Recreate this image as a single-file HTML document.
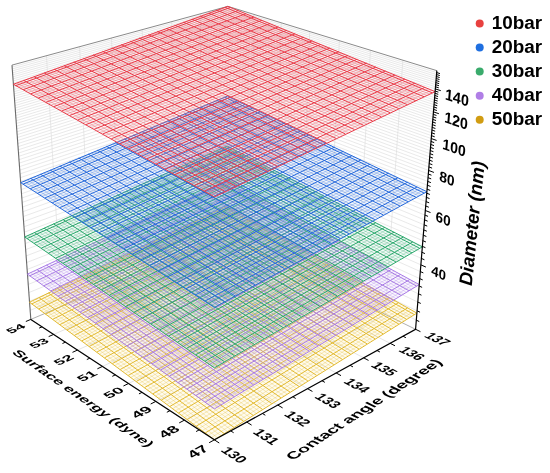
<!DOCTYPE html>
<html><head><meta charset="utf-8"><style>html,body{margin:0;padding:0;background:#fff;}svg{display:block;}</style></head>
<body><svg width="550" height="473" viewBox="0 0 550 473">
<path d="M30.15,310.4L226.68,228.53M226.68,228.53L416.31,320.14M29.47,301.2L226.73,220.11M226.73,220.11L417.08,310.8M28.83,292.57L226.77,212.22M226.77,212.22L417.8,302.04M28.23,284.45L226.81,204.79M226.81,204.79L418.48,293.79M27.66,276.77L226.84,197.78M226.84,197.78L419.12,285.99M27.12,269.48L226.88,191.13M226.88,191.13L419.73,278.59M26.61,262.55L226.91,184.81M226.91,184.81L420.31,271.55M26.12,255.95L226.94,178.78M226.94,178.78L420.86,264.84M25.65,249.63L226.97,173.02M226.97,173.02L421.39,258.42M25.2,243.57L227,167.51M227,167.51L421.89,252.26M24.77,237.76L227.02,162.22M227.02,162.22L422.38,246.36M24.35,232.17L227.05,157.14M227.05,157.14L422.85,240.68M23.96,226.79L227.08,152.24M227.08,152.24L423.3,235.2M23.57,221.59L227.1,147.52M227.1,147.52L423.73,229.92M23.2,216.57L227.12,142.96M227.12,142.96L424.15,224.82M22.84,211.72L227.15,138.56M227.15,138.56L424.56,219.88M22.49,207.02L227.17,134.29M227.17,134.29L424.95,215.1M22.15,202.46L227.19,130.15M227.19,130.15L425.33,210.47M21.82,198.04L227.21,126.14M227.21,126.14L425.7,205.97M21.51,193.74L227.23,122.24M227.23,122.24L426.06,201.6M21.2,189.56L227.25,118.46M227.25,118.46L426.41,197.34M20.9,185.49L227.27,114.77M227.27,114.77L426.75,193.21M20.6,181.53L227.29,111.19M227.29,111.19L427.08,189.18M20.32,177.67L227.31,107.69M227.31,107.69L427.41,185.25M20.04,173.9L227.32,104.28M227.32,104.28L427.72,181.41M19.76,170.22L227.34,100.96M227.34,100.96L428.03,177.67M19.5,166.63L227.36,97.71M227.36,97.71L428.33,174.02M19.24,163.12L227.37,94.53M227.37,94.53L428.63,170.45M18.98,159.69L227.39,91.43M227.39,91.43L428.91,166.95M18.73,156.33L227.41,88.4M227.41,88.4L429.19,163.54M18.49,153.04L227.42,85.43M227.42,85.43L429.47,160.19M18.25,149.82L227.44,82.52M227.44,82.52L429.74,156.91M18.02,146.66L227.45,79.67M227.45,79.67L430,153.7M17.79,143.57L227.47,76.88M227.47,76.88L430.26,150.55M17.56,140.54L227.48,74.15M227.48,74.15L430.52,147.46M17.34,137.56L227.49,71.46M227.49,71.46L430.77,144.43M17.13,134.64L227.51,68.83M227.51,68.83L431.01,141.46M16.91,131.77L227.52,66.24M227.52,66.24L431.25,138.54M16.71,128.95L227.53,63.7M227.53,63.7L431.49,135.67M16.5,126.18L227.55,61.21M227.55,61.21L431.72,132.85M16.3,123.46L227.56,58.76M227.56,58.76L431.95,130.08M16.1,120.78L227.57,56.34M227.57,56.34L432.17,127.35M15.91,118.15L227.58,53.97M227.58,53.97L432.39,124.67M15.71,115.56L227.6,51.64M227.6,51.64L432.61,122.03M15.52,113.01L227.61,49.35M227.61,49.35L432.82,119.43M15.34,110.5L227.62,47.09M227.62,47.09L433.03,116.88M15.16,108.02L227.63,44.87M227.63,44.87L433.24,114.36M14.97,105.59L227.64,42.68M227.64,42.68L433.44,111.88M14.8,103.19L227.65,40.52M227.65,40.52L433.65,109.44M14.62,100.83L227.66,38.4M227.66,38.4L433.84,107.03M14.45,98.5L227.67,36.3M227.67,36.3L434.04,104.66M14.28,96.2L227.69,34.24M227.69,34.24L434.23,102.32M14.11,93.93L227.7,32.21M227.7,32.21L434.42,100.01M13.95,91.7L227.71,30.2M227.71,30.2L434.61,97.73M13.78,89.49L227.72,28.22M227.72,28.22L434.79,95.49M13.62,87.32L227.73,26.27M227.73,26.27L434.98,93.27M13.46,85.17L227.74,24.34M227.74,24.34L435.16,91.08M13.3,83.05L227.75,22.44M227.75,22.44L435.33,88.92M13.15,80.96L227.76,20.56M227.76,20.56L435.51,86.79M13,78.89L227.77,18.7M227.77,18.7L435.68,84.68M12.85,76.85L227.77,16.87M227.77,16.87L435.85,82.6M12.7,74.83L227.78,15.07M227.78,15.07L436.02,80.55M12.55,72.84L227.79,13.28M227.79,13.28L436.19,78.52M12.4,70.87L227.8,11.51M227.8,11.51L436.36,76.51M12.26,68.92L227.81,9.77M227.81,9.77L436.52,74.53M12.12,67L227.82,8.05M227.82,8.05L436.68,72.57M61.79,306.33L46.45,55.74M385.19,314.41L402.86,60.2M91.68,293.72L79.6,46.72M356.07,300.15L370.41,50.22M120.53,281.54L111.49,38.03M328.11,286.46L339.39,40.68M148.41,269.78L142.2,29.68M301.25,273.31L309.7,31.55M175.36,258.42L171.78,21.62M275.42,260.66L281.26,22.8M201.42,247.42L200.31,13.86M250.57,248.5L253.99,14.41" stroke="#dadada" stroke-width="0.6" fill="none"/>
<path d="M246.72,422.07L61.79,306.33M184.4,420.17L385.19,314.41M277.74,405.02L91.68,293.72M155.82,401.41L356.07,300.15M307.51,388.66L120.53,281.54M128.54,383.51L328.11,286.46M336.11,372.94L148.41,269.78M102.48,366.41L301.25,273.31M363.61,357.82L175.36,258.42M77.55,350.06L275.42,260.66M390.08,343.28L201.42,247.42M53.69,334.4L250.57,248.5" stroke="#d8d8d8" stroke-width="0.7" fill="none"/>
<path d="M30.82,319.4L11.98,65.12" stroke="#6a6a6a" stroke-width="1.1" fill="none"/>
<path d="M11.98,65.12L227.83,6.37L436.84,70.65" stroke="#8a8a8a" stroke-width="1" fill="none"/>
<path d="M30.82,319.4L226.64,236.78L415.56,329.28" stroke="#9a9a9a" stroke-width="0.8" fill="none"/>
<polygon points="214.39,439.84 230.74,429.46 246.76,419.3 262.47,409.37 277.88,399.66 292.99,390.16 307.82,380.85 322.36,371.75 336.63,362.83 350.63,354.11 364.37,345.56 377.86,337.19 391.11,328.99 404.11,320.95 416.89,313.08 416.89,313.08 401.53,304.37 386.48,295.84 371.73,287.49 357.26,279.32 343.08,271.32 329.17,263.49 315.52,255.82 302.12,248.31 288.98,240.94 276.08,233.73 263.42,226.66 250.99,219.72 238.79,212.93 226.8,206.26 226.8,206.26 214.14,212.3 201.28,218.46 188.22,224.73 174.94,231.11 161.46,237.62 147.75,244.26 133.82,251.02 119.66,257.91 105.26,264.94 90.62,272.11 75.74,279.41 60.6,286.87 45.21,294.47 29.55,302.23 29.55,302.23 41.01,310.69 52.7,319.33 64.64,328.17 76.83,337.2 89.28,346.43 101.99,355.87 114.98,365.53 128.26,375.41 141.82,385.53 155.69,395.88 169.87,406.48 184.37,417.33 199.21,428.45 214.39,439.84" fill="#f6e38e" fill-opacity="0.15"/>
<path d="M217.68,437.74L32.7,300.67M211.32,437.54L413.79,311.32M220.96,435.66L35.84,299.11M208.27,435.25L410.71,309.57M227.49,431.51L42.09,296.01M202.21,430.7L404.58,306.09M230.74,429.46L45.21,294.47M199.21,428.45L401.53,304.37M237.18,425.37L51.4,291.41M193.23,423.97L395.48,300.93M240.39,423.34L54.47,289.89M190.26,421.74L392.47,299.23M246.76,419.3L60.6,286.87M184.37,417.33L386.48,295.84M249.93,417.3L63.65,285.37M181.44,415.14L383.51,294.15M256.23,413.32L69.71,282.38M175.63,410.79L377.6,290.81M259.36,411.34L72.73,280.89M172.74,408.63L374.66,289.15M265.58,407.41L78.73,277.94M167.01,404.34L368.81,285.84M268.67,405.46L81.72,276.47M164.16,402.21L365.91,284.2M274.82,401.59L87.66,273.56M158.5,397.98L360.13,280.94M277.88,399.66L90.62,272.11M155.69,395.88L357.26,279.32M283.96,395.83L96.51,269.22M150.1,391.71L351.56,276.1M286.98,393.93L99.43,267.79M147.33,389.64L348.72,274.5M292.99,390.16L105.26,264.94M141.82,385.53L343.08,271.32M295.98,388.28L108.16,263.52M139.08,383.48L340.27,269.74M301.92,384.55L113.93,260.71M133.65,379.43L334.7,266.6M304.87,382.7L116.8,259.31M130.94,377.42L331.93,265.05M310.75,379.02L122.51,256.52M125.58,373.42L326.41,261.94M313.67,377.19L125.35,255.14M122.91,371.43L323.67,260.4M319.47,373.55L131,252.39M117.61,367.49L318.23,257.34M322.36,371.75L133.82,251.02M114.98,365.53L315.52,255.82M328.1,368.16L139.42,248.3M109.75,361.64L310.13,252.8M330.95,366.38L142.2,246.95M107.16,359.71L307.45,251.29M336.63,362.83L147.75,244.26M101.99,355.87L302.12,248.31M339.45,361.07L150.51,242.92M99.43,353.97L299.48,246.82M345.06,357.58L156,240.26M94.33,350.18L294.21,243.87M347.85,355.84L158.73,238.94M91.8,348.3L291.59,242.4M353.4,352.38L164.17,236.31M86.77,344.57L286.38,239.49M356.16,350.67L166.88,235.01M84.27,342.71L283.79,238.04M361.64,347.26L172.26,232.41M79.3,339.03L278.65,235.16M364.37,345.56L174.94,231.11M76.83,337.2L276.08,233.73M369.8,342.19L180.28,228.55M71.93,333.56L270.99,230.88M372.5,340.52L182.93,227.27M69.49,331.76L268.46,229.47M377.86,337.19L188.22,224.73M64.64,328.17L263.42,226.66M380.53,335.54L190.85,223.46M62.23,326.38L260.92,225.26M385.84,332.25L196.08,220.95M57.45,322.84L255.94,222.48M388.48,330.62L198.69,219.7M55.07,321.08L253.46,221.1M393.73,327.37L203.87,217.22M50.34,317.59L248.53,218.35M396.34,325.76L206.45,215.98M48,315.85L246.08,216.99M401.53,322.55L211.58,213.53M43.33,312.4L241.21,214.28M404.11,320.95L214.14,212.3M41.01,310.69L238.79,212.93M409.25,317.79L219.23,209.87M36.39,307.28L233.96,210.25M411.81,316.21L221.76,208.67M34.1,305.59L231.57,208.91" stroke="#e3ba30" stroke-width="0.5" stroke-opacity="0.6" fill="none"/>
<path d="M214.39,439.84L29.55,302.23M214.39,439.84L416.89,313.08M224.23,433.58L38.97,297.56M205.24,432.97L407.64,307.83M233.97,427.41L48.31,292.94M196.21,426.2L398.5,302.65M243.58,421.32L57.54,288.38M187.31,419.53L389.47,297.53M253.08,415.31L66.69,283.87M178.53,412.96L380.55,292.48M262.47,409.37L75.74,279.41M169.87,406.48L371.73,287.49M271.76,403.52L84.7,275.01M161.32,400.09L363.02,282.57M280.93,397.74L93.57,270.66M152.89,393.79L354.41,277.71M289.99,392.04L102.35,266.36M144.57,387.58L345.89,272.91M298.96,386.41L111.05,262.11M136.36,381.45L337.48,268.17M307.82,380.85L119.66,257.91M128.26,375.41L329.17,263.49M316.57,375.37L128.18,253.76M120.26,369.46L320.94,258.87M325.23,369.95L136.62,249.66M112.36,363.58L312.82,254.31M333.79,364.6L144.98,245.6M104.57,357.79L304.78,249.8M342.26,359.32L153.26,241.59M96.88,352.07L296.84,245.34M350.63,354.11L161.46,237.62M89.28,346.43L288.98,240.94M358.91,348.96L169.58,233.7M81.78,340.87L281.22,236.6M367.09,343.87L177.62,229.83M74.37,335.38L273.53,232.3M375.18,338.85L185.58,226M67.06,329.96L265.94,228.06M383.19,333.89L193.47,222.21M59.84,324.61L258.42,223.87M391.11,328.99L201.28,218.46M52.7,319.33L250.99,219.72M398.94,324.15L209.02,214.75M45.66,314.12L243.64,215.63M406.69,319.37L216.69,211.09M38.7,308.98L236.37,211.58M414.35,314.64L224.28,207.46M31.82,303.91L229.18,207.59M416.89,313.08L226.8,206.26M29.55,302.23L226.8,206.26" stroke="#e3ba30" stroke-width="1.0" stroke-opacity="1" fill="none"/>
<polygon points="214.4,408.91 230.96,398.71 247.19,388.73 263.1,378.98 278.7,369.44 293.99,360.11 308.99,350.98 323.7,342.05 338.13,333.31 352.28,324.76 366.18,316.38 379.81,308.18 393.19,300.15 406.33,292.28 419.23,284.58 419.23,284.58 403.68,276.05 388.44,267.71 373.5,259.56 358.86,251.57 344.5,243.76 330.42,236.11 316.61,228.62 303.07,221.28 289.78,214.1 276.74,207.06 263.94,200.16 251.38,193.4 239.04,186.78 226.93,180.28 226.93,180.28 214.15,186.18 201.16,192.19 187.96,198.31 174.54,204.55 160.91,210.91 147.05,217.39 132.97,224 118.65,230.75 104.09,237.62 89.28,244.63 74.22,251.79 58.9,259.09 43.32,266.53 27.46,274.14 27.46,274.14 39.03,282.4 50.85,290.85 62.9,299.49 75.22,308.33 87.8,317.36 100.65,326.6 113.78,336.06 127.21,345.74 140.93,355.65 154.96,365.79 169.31,376.18 183.99,386.83 199.02,397.73 214.4,408.91" fill="#dfcbf6" fill-opacity="0.15"/>
<path d="M217.74,406.85L30.66,272.6M211.29,406.66L416.1,282.86M221.06,404.8L33.84,271.08M208.2,404.41L412.97,281.15M227.67,400.73L40.17,268.04M202.07,399.95L406.76,277.74M230.96,398.71L43.32,266.53M199.02,397.73L403.68,276.05M237.49,394.69L49.58,263.54M192.97,393.34L397.55,272.7M240.74,392.7L52.7,262.05M189.96,391.16L394.5,271.03M247.19,388.73L58.9,259.09M183.99,386.83L388.44,267.71M250.4,386.77L61.98,257.61M181.03,384.68L385.43,266.07M256.78,382.86L68.12,254.69M175.14,380.41L379.44,262.8M259.94,380.91L71.18,253.24M172.22,378.29L376.46,261.17M266.25,377.05L77.25,250.34M166.42,374.08L370.55,257.95M269.38,375.14L80.27,248.91M163.53,372L367.61,256.34M275.6,371.33L86.29,246.05M157.8,367.85L361.76,253.16M278.7,369.44L89.28,244.63M154.96,365.79L358.86,251.57M284.85,365.68L95.23,241.81M149.31,361.7L353.08,248.43M287.91,363.82L98.19,240.41M146.5,359.68L350.21,246.86M293.99,360.11L104.09,237.62M140.93,355.65L344.5,243.76M297.01,358.27L107.02,236.23M138.16,353.65L341.66,242.22M303.02,354.61L112.85,233.48M132.66,349.67L336.02,239.15M306.01,352.79L115.75,232.11M129.93,347.7L333.22,237.63M311.95,349.18L121.53,229.39M124.5,343.78L327.64,234.6M314.91,347.39L124.4,228.03M121.8,341.84L324.87,233.09M320.78,343.82L130.12,225.34M116.44,337.98L319.35,230.1M323.7,342.05L132.97,224M113.78,336.06L316.61,228.62M329.5,338.53L138.63,221.34M108.5,332.25L311.16,225.67M332.39,336.78L141.45,220.02M105.87,330.36L308.46,224.2M338.13,333.31L147.05,217.39M100.65,326.6L303.07,221.28M340.98,331.59L149.84,216.09M98.06,324.74L300.39,219.83M346.65,328.16L155.4,213.49M92.91,321.03L295.07,216.96M349.47,326.45L158.16,212.2M90.35,319.19L292.42,215.52M355.08,323.07L163.66,209.63M85.26,315.54L287.15,212.68M357.87,321.38L166.39,208.35M82.73,313.72L284.53,211.27M363.42,318.04L171.84,205.81M77.71,310.12L279.33,208.46M366.18,316.38L174.54,204.55M75.22,308.33L276.74,207.06M371.66,313.08L179.94,202.04M70.26,304.77L271.59,204.28M374.39,311.44L182.62,200.79M67.8,303L269.03,202.9M379.81,308.18L187.96,198.31M62.9,299.49L263.94,200.16M382.51,306.56L190.61,197.08M60.47,297.75L261.41,198.8M387.87,303.34L195.9,194.62M55.64,294.29L256.37,196.09M390.54,301.74L198.53,193.4M53.24,292.57L253.87,194.74M395.84,298.56L203.77,190.98M48.46,289.15L248.89,192.07M398.48,296.98L206.38,189.77M46.09,287.45L246.42,190.74M403.72,293.84L211.56,187.37M41.38,284.08L241.49,188.09M406.33,292.28L214.15,186.18M39.03,282.4L239.04,186.78M411.52,289.18L219.28,183.81M34.38,279.07L234.17,184.16M414.1,287.64L221.84,182.63M32.06,277.42L231.75,182.87" stroke="#a97be6" stroke-width="0.5" stroke-opacity="0.6" fill="none"/>
<path d="M214.4,408.91L27.46,274.14M214.4,408.91L419.23,284.58M224.38,402.76L37.01,269.56M205.13,402.17L409.86,279.44M234.23,396.7L46.46,265.03M195.99,395.53L400.61,274.37M243.97,390.71L55.81,260.56M186.97,388.99L391.46,269.37M253.59,384.81L65.06,256.15M178.08,382.54L382.43,264.43M263.1,378.98L74.22,251.79M169.31,376.18L373.5,259.56M272.5,373.23L83.29,247.48M160.66,369.92L364.68,254.75M281.78,367.56L92.26,243.22M152.13,363.74L355.96,250M290.96,361.96L101.14,239.01M143.71,357.66L347.35,245.31M300.02,356.44L109.94,234.85M135.4,351.65L338.84,240.68M308.99,350.98L118.65,230.75M127.21,345.74L330.42,236.11M317.85,345.6L127.27,226.68M119.12,339.9L322.11,231.6M326.61,340.29L135.8,222.67M111.13,334.15L313.88,227.14M335.26,335.04L144.26,218.7M103.25,328.48L305.76,222.74M343.82,329.87L152.62,214.78M95.48,322.88L297.72,218.39M352.28,324.76L160.91,210.91M87.8,317.36L289.78,214.1M360.65,319.71L169.12,207.08M80.22,311.91L281.93,209.86M368.92,314.73L177.24,203.29M72.74,306.54L274.16,205.67M377.1,309.81L185.29,199.55M65.35,301.24L266.48,201.53M385.19,304.95L193.26,195.85M58.05,296.01L258.89,197.44M393.19,300.15L201.16,192.19M50.85,290.85L251.38,193.4M401.11,295.41L208.98,188.57M43.73,285.76L243.95,189.41M408.93,290.73L216.72,184.99M36.7,280.74L236.6,185.47M416.67,286.11L224.39,181.45M29.76,275.78L229.34,181.57M419.23,284.58L226.93,180.28M27.46,274.14L226.93,180.28" stroke="#a97be6" stroke-width="1.0" stroke-opacity="1" fill="none"/>
<polygon points="214.41,367.82 231.26,357.86 247.76,348.14 263.93,338.63 279.78,329.33 295.31,320.25 310.54,311.36 325.47,302.67 340.12,294.17 354.48,285.85 368.57,277.71 382.39,269.75 395.96,261.95 409.27,254.32 422.34,246.85 422.34,246.85 406.52,238.58 391.02,230.51 375.84,222.6 360.96,214.88 346.38,207.32 332.08,199.92 318.06,192.67 304.32,185.58 290.83,178.64 277.6,171.84 264.62,165.19 251.88,158.66 239.38,152.27 227.11,146.01 227.11,146.01 214.16,151.7 200.99,157.51 187.61,163.43 174.01,169.47 160.19,175.63 146.14,181.91 131.85,188.31 117.31,194.85 102.54,201.51 87.5,208.32 72.21,215.26 56.65,222.34 40.82,229.58 24.71,236.96 24.71,236.96 36.42,244.97 48.39,253.15 60.6,261.52 73.08,270.08 85.84,278.84 98.87,287.81 112.19,296.99 125.81,306.38 139.74,316.01 153.99,325.87 168.57,335.97 183.5,346.32 198.77,356.94 214.41,367.82" fill="#aee2c8" fill-opacity="0.15"/>
<path d="M217.81,365.81L27.95,235.47M211.26,365.62L419.15,245.18M221.19,363.81L31.19,233.99M208.11,363.44L415.97,243.52M227.92,359.84L37.62,231.04M201.87,359.09L409.66,240.22M231.26,357.86L40.82,229.58M198.77,356.94L406.52,238.58M237.9,353.95L47.19,226.67M192.62,352.66L400.28,235.33M241.2,352L50.35,225.22M189.56,350.54L397.18,233.71M247.76,348.14L56.65,222.34M183.5,346.32L391.02,230.51M251.02,346.22L59.78,220.91M180.48,344.23L387.96,228.91M257.5,342.4L66.02,218.07M174.5,340.08L381.88,225.74M260.73,340.51L69.12,216.66M171.53,338.02L378.85,224.17M267.13,336.75L75.29,213.86M165.63,333.93L372.84,221.05M270.31,334.88L78.36,212.46M162.7,331.9L369.85,219.49M276.64,331.17L84.46,209.69M156.88,327.87L363.91,216.41M279.78,329.33L87.5,208.32M153.99,325.87L360.96,214.88M286.03,325.67L93.55,205.58M148.25,321.89L355.09,211.83M289.14,323.86L96.55,204.22M145.4,319.92L352.18,210.32M295.31,320.25L102.54,201.51M139.74,316.01L346.38,207.32M298.38,318.45L105.51,200.17M136.93,314.06L343.5,205.82M304.49,314.89L111.43,197.5M131.35,310.21L337.77,202.86M307.52,313.12L114.38,196.17M128.57,308.29L334.92,201.38M313.55,309.61L120.24,193.53M123.06,304.49L329.26,198.46M316.55,307.86L123.16,192.22M120.33,302.6L326.44,197M322.51,304.39L128.96,189.61M114.89,298.85L320.85,194.11M325.47,302.67L131.85,188.31M112.19,296.99L318.06,192.67M331.37,299.25L137.59,185.74M106.83,293.29L312.53,189.82M334.29,297.55L140.45,184.45M104.16,291.45L309.78,188.4M340.12,294.17L146.14,181.91M98.87,287.81L304.32,185.58M343.01,292.49L148.97,180.64M96.24,286L301.6,184.18M348.77,289.16L154.6,178.13M91.02,282.4L296.19,181.4M351.63,287.5L157.4,176.88M88.42,280.62L293.51,180.02M357.32,284.21L162.97,174.39M83.26,277.08L288.17,177.27M360.15,282.58L165.75,173.15M80.7,275.32L285.51,175.91M365.77,279.33L171.27,170.69M75.61,271.82L280.23,173.19M368.57,277.71L174.01,169.47M73.08,270.08L277.6,171.84M374.13,274.51L179.48,167.04M68.06,266.63L272.38,169.16M376.89,272.91L182.2,165.84M65.56,264.92L269.79,167.83M382.39,269.75L187.61,163.43M60.6,261.52L264.62,165.19M385.13,268.18L190.31,162.24M58.14,259.83L262.06,163.87M390.56,265.05L195.67,159.87M53.24,256.48L256.95,161.26M393.26,263.5L198.33,158.69M50.81,254.81L254.41,159.96M398.64,260.41L203.64,156.34M45.97,251.5L249.37,157.37M401.31,258.88L206.28,155.18M43.57,249.86L246.86,156.09M406.63,255.83L211.54,152.86M38.8,246.59L241.86,153.54M409.27,254.32L214.16,151.7M36.42,244.97L239.38,152.27M414.53,251.31L219.36,149.41M31.71,241.74L234.45,149.75M417.14,249.82L221.95,148.27M29.37,240.14L231.99,148.5" stroke="#2aa86c" stroke-width="0.5" stroke-opacity="0.6" fill="none"/>
<path d="M214.41,367.82L24.71,236.96M214.41,367.82L422.34,246.85M224.56,361.82L34.41,232.51M204.98,361.26L412.81,241.87M234.59,355.9L44.01,228.12M195.69,354.79L403.4,236.95M244.49,350.06L53.51,223.78M186.52,348.42L394.1,232.11M254.27,344.31L62.91,219.49M177.49,342.15L384.91,227.32M263.93,338.63L72.21,215.26M168.57,335.97L375.84,222.6M273.48,333.02L81.42,211.07M159.79,329.88L366.88,217.95M282.91,327.5L90.53,206.94M151.12,323.88L358.02,213.35M292.23,322.05L99.55,202.86M142.57,317.96L349.27,208.81M301.44,316.67L108.48,198.83M134.13,312.13L340.63,204.34M310.54,311.36L117.31,194.85M125.81,306.38L332.08,199.92M319.54,306.12L126.06,190.91M117.6,300.72L323.64,195.55M328.43,300.95L134.72,187.02M109.5,295.13L315.29,191.24M337.21,295.85L143.3,183.18M101.51,289.63L307.04,186.99M345.9,290.82L151.79,179.38M93.62,284.2L298.89,182.79M354.48,285.85L160.19,175.63M85.84,278.84L290.83,178.64M362.97,280.95L168.51,171.92M78.15,273.56L282.86,174.55M371.35,276.11L176.75,168.26M70.57,268.36L274.99,170.5M379.65,271.33L184.91,164.63M63.08,263.22L267.2,166.51M387.85,266.61L192.99,161.05M55.69,258.15L259.5,162.56M395.96,261.95L200.99,157.51M48.39,253.15L251.88,158.66M403.97,257.35L208.92,154.01M41.18,248.22L244.36,154.81M411.9,252.81L216.76,150.56M34.06,243.35L236.91,151.01M419.74,248.33L224.53,147.14M27.03,238.55L229.55,147.25M422.34,246.85L227.11,146.01M24.71,236.96L227.11,146.01" stroke="#2aa86c" stroke-width="1.0" stroke-opacity="1" fill="none"/>
<polygon points="214.44,307.43 231.7,297.86 248.6,288.52 265.15,279.4 281.37,270.49 297.26,261.78 312.82,253.27 328.08,244.96 343.03,236.83 357.69,228.88 372.07,221.11 386.17,213.51 400,206.08 413.57,198.81 426.88,191.69 426.88,191.69 410.67,183.83 394.8,176.15 379.26,168.65 364.04,161.31 349.12,154.14 334.5,147.13 320.18,140.26 306.13,133.55 292.37,126.98 278.86,120.55 265.62,114.25 252.62,108.09 239.88,102.05 227.37,96.13 227.37,96.13 214.17,101.53 200.75,107.04 187.11,112.65 173.24,118.38 159.14,124.23 144.8,130.2 130.21,136.29 115.37,142.5 100.27,148.85 84.91,155.33 69.28,161.95 53.37,168.7 37.17,175.61 20.69,182.66 20.69,182.66 32.61,190.26 44.79,198.04 57.24,205.99 69.96,214.13 82.96,222.47 96.26,231.01 109.86,239.75 123.77,248.71 138.01,257.89 152.58,267.31 167.49,276.96 182.76,286.86 198.41,297.01 214.44,307.43" fill="#adcaf2" fill-opacity="0.15"/>
<path d="M217.92,305.5L24.01,181.24M211.2,305.33L423.61,190.1M221.39,303.58L27.32,179.82M207.98,303.23L420.35,188.52M228.28,299.76L33.9,177.01M201.58,299.07L413.88,185.39M231.7,297.86L37.17,175.61M198.41,297.01L410.67,183.83M238.5,294.1L43.69,172.83M192.11,292.92L404.28,180.74M241.88,292.23L46.92,171.45M188.98,290.89L401.11,179.2M248.6,288.52L53.37,168.7M182.76,286.86L394.8,176.15M251.94,286.68L56.57,167.34M179.68,284.86L391.67,174.64M258.57,283.02L62.95,164.63M173.56,280.89L385.44,171.63M261.87,281.21L66.12,163.29M170.52,278.92L382.34,170.14M268.42,277.6L72.43,160.61M164.48,275.01L376.19,167.17M271.68,275.81L75.56,159.28M161.48,273.07L373.13,165.7M278.15,272.25L81.81,156.64M155.53,269.22L367.06,162.77M281.37,270.49L84.91,155.33M152.58,267.31L364.04,161.31M287.76,266.98L91.09,152.72M146.71,263.51L358.03,158.43M290.94,265.24L94.16,151.42M143.79,261.63L355.05,156.99M297.26,261.78L100.27,148.85M138.01,257.89L349.12,154.14M300.39,260.06L103.31,147.57M135.13,256.04L346.17,152.72M306.63,256.65L109.36,145.02M129.43,252.36L340.32,149.91M309.73,254.96L112.37,143.76M126.59,250.53L337.4,148.52M315.9,251.59L118.36,141.25M120.97,246.9L331.62,145.74M318.96,249.92L121.34,140M118.17,245.1L328.74,144.36M325.05,246.61L127.26,137.52M112.62,241.53L323.02,141.62M328.08,244.96L130.21,136.29M109.86,239.75L320.18,140.26M334.1,241.68L136.08,133.84M104.38,236.23L314.53,137.56M337.09,240.06L138.99,132.62M101.66,234.48L311.72,136.22M343.03,236.83L144.8,130.2M96.26,231.01L306.13,133.55M345.99,235.23L147.69,128.99M93.58,229.28L303.36,132.22M351.86,232.04L153.43,126.6M88.25,225.86L297.84,129.59M354.78,230.46L156.29,125.41M85.6,224.16L295.1,128.28M360.59,227.32L161.98,123.05M80.34,220.79L289.64,125.68M363.48,225.75L164.81,121.88M77.73,219.11L286.93,124.39M369.22,222.65L170.44,119.54M72.54,215.78L281.54,121.82M372.07,221.11L173.24,118.38M69.96,214.13L278.86,120.55M377.74,218.05L178.82,116.08M64.84,210.85L273.53,118.01M380.56,216.53L181.59,114.93M62.29,209.22L270.88,116.75M386.17,213.51L187.11,112.65M57.24,205.99L265.62,114.25M388.96,212.01L189.86,111.52M54.73,204.38L263,113.01M394.5,209.03L195.32,109.27M49.74,201.2L257.79,110.54M397.25,207.55L198.04,108.15M47.26,199.61L255.2,109.31M402.73,204.61L203.45,105.93M42.33,196.47L250.06,106.87M405.46,203.15L206.14,104.82M39.89,194.9L247.5,105.65M410.87,200.25L211.5,102.62M35.03,191.8L242.41,103.25M413.57,198.81L214.17,101.53M32.61,190.26L239.88,102.05M418.92,195.94L219.47,99.36M27.81,187.2L234.84,99.67M421.58,194.52L222.11,98.28M25.43,185.68L232.34,98.48" stroke="#2468dc" stroke-width="0.5" stroke-opacity="0.6" fill="none"/>
<path d="M214.44,307.43L20.69,182.66M214.44,307.43L426.88,191.69M224.84,301.66L30.61,178.41M204.77,301.15L417.11,186.95M235.11,295.98L40.44,174.22M195.25,294.96L407.47,182.28M245.25,290.37L50.15,170.07M185.86,288.87L397.95,177.68M255.26,284.85L59.77,165.98M176.61,282.87L388.55,173.13M265.15,279.4L69.28,161.95M167.49,276.96L379.26,168.65M274.92,274.03L78.69,157.96M158.5,271.14L370.09,164.23M284.57,268.73L88.01,154.02M149.64,265.4L361.03,159.87M294.1,263.5L97.22,150.13M140.89,259.76L352.08,155.56M303.52,258.35L106.34,146.29M132.27,254.19L343.24,151.32M312.82,253.27L115.37,142.5M123.77,248.71L334.5,147.13M322.01,248.26L124.3,138.76M115.39,243.31L325.87,142.99M331.09,243.32L133.15,135.06M107.12,237.99L317.35,138.91M340.07,238.44L141.9,131.4M98.96,232.74L308.92,134.88M348.93,233.63L150.56,127.8M90.91,227.57L300.59,130.9M357.69,228.88L159.14,124.23M82.96,222.47L292.37,126.98M366.35,224.2L167.63,120.71M75.13,217.44L284.23,123.1M374.91,219.58L176.04,117.23M67.39,212.49L276.19,119.28M383.37,215.02L184.36,113.79M59.76,207.6L268.25,115.5M391.73,210.52L192.59,110.39M52.23,202.79L260.39,111.77M400,206.08L200.75,107.04M44.79,198.04L252.62,108.09M408.17,201.7L208.83,103.72M37.45,193.35L244.95,104.45M416.25,197.37L216.82,100.44M30.2,188.73L237.36,100.86M424.23,193.1L224.74,97.2M23.05,184.17L229.85,97.31M426.88,191.69L227.37,96.13M20.69,182.66L227.37,96.13" stroke="#2468dc" stroke-width="1.0" stroke-opacity="1" fill="none"/>
<polygon points="214.48,196.9 232.5,188.12 250.13,179.56 267.39,171.22 284.27,163.08 300.8,155.14 316.98,147.39 332.82,139.82 348.34,132.44 363.54,125.24 378.44,118.2 393.03,111.32 407.34,104.61 421.36,98.04 435.11,91.63 435.11,91.63 418.2,84.57 401.65,77.68 385.45,70.95 369.6,64.39 354.08,57.97 338.88,51.7 324,45.58 309.42,39.59 295.13,33.74 281.13,28.02 267.41,22.43 253.96,16.96 240.77,11.6 227.83,6.37 227.83,6.37 214.19,11.18 200.32,16.11 186.21,21.13 171.85,26.27 157.25,31.51 142.38,36.87 127.26,42.35 111.86,47.94 96.18,53.66 80.23,59.51 63.98,65.5 47.43,71.61 30.57,77.87 13.4,84.27 13.4,84.27 25.69,91.08 38.27,98.04 51.13,105.18 64.28,112.49 77.74,119.99 91.52,127.68 105.62,135.56 120.06,143.65 134.84,151.94 149.99,160.46 165.52,169.21 181.43,178.19 197.74,187.42 214.48,196.9" fill="#f6bcc2" fill-opacity="0.15"/>
<path d="M218.12,195.12L16.86,82.98M211.1,194.98L431.7,90.21M221.74,193.36L20.3,81.7M207.73,193.07L428.3,88.79M228.93,189.86L27.16,79.14M201.06,189.29L421.55,85.97M232.5,188.12L30.57,77.87M197.74,187.42L418.2,84.57M239.6,184.67L37.35,75.35M191.17,183.69L411.53,81.79M243.13,182.96L40.72,74.1M187.91,181.85L408.22,80.42M250.13,179.56L47.43,71.61M181.43,178.19L401.65,77.68M253.61,177.87L50.76,70.38M178.21,176.37L398.38,76.32M260.53,174.53L57.39,67.93M171.83,172.77L391.89,73.63M263.96,172.87L60.69,66.71M168.67,170.98L388.66,72.29M270.79,169.57L67.25,64.29M162.38,167.44L382.25,69.63M274.18,167.94L70.51,63.09M159.26,165.68L379.07,68.31M280.92,164.69L77,60.7M153.07,162.19L372.74,65.69M284.27,163.08L80.23,59.51M149.99,160.46L369.6,64.39M290.92,159.88L86.64,57.16M143.89,157.03L363.35,61.8M294.23,158.29L89.84,55.99M140.86,155.32L360.25,60.52M300.8,155.14L96.18,53.66M134.84,151.94L354.08,57.97M304.06,153.57L99.34,52.51M131.86,150.27L351.01,56.7M310.55,150.46L105.62,50.22M125.93,146.94L344.92,54.19M313.77,148.92L108.75,49.08M122.98,145.29L341.9,52.94M320.17,145.86L114.96,46.81M117.14,142.01L335.88,50.47M323.35,144.34L118.05,45.69M114.24,140.39L332.89,49.24M329.68,141.32L124.2,43.46M108.48,137.16L326.95,46.79M332.82,139.82L127.26,42.35M105.62,135.56L324,45.58M339.07,136.85L133.34,40.14M99.94,132.38L318.13,43.17M342.17,135.37L136.36,39.05M97.12,130.8L315.21,41.97M348.34,132.44L142.38,36.87M91.52,127.68L309.42,39.59M351.41,130.99L145.38,35.79M88.74,126.12L306.54,38.41M357.5,128.1L151.33,33.64M83.22,123.04L300.81,36.07M360.53,126.66L154.29,32.57M80.47,121.51L297.97,34.9M366.54,123.81L160.19,30.45M75.03,118.47L292.31,32.59M369.54,122.4L163.12,29.4M72.32,116.97L289.5,31.44M375.48,119.59L168.95,27.31M66.95,113.98L283.91,29.16M378.44,118.2L171.85,26.27M64.28,112.49L281.13,28.02M384.31,115.43L177.62,24.2M58.99,109.54L275.61,25.77M387.23,114.05L180.5,23.17M56.36,108.08L272.87,24.65M393.03,111.32L186.21,21.13M51.13,105.18L267.41,22.43M395.92,109.97L189.05,20.12M48.53,103.74L264.7,21.32M401.65,107.27L194.7,18.1M43.38,100.88L259.31,19.13M404.5,105.94L197.52,17.1M40.82,99.45L256.63,18.04M410.16,103.28L203.11,15.11M35.73,96.63L251.3,15.88M412.98,101.96L205.9,14.12M33.21,95.23L248.65,14.8M418.58,99.34L211.43,12.16M28.19,92.46L243.38,12.67M421.36,98.04L214.19,11.18M25.69,91.08L240.77,11.6M426.89,95.46L219.67,9.24M20.74,88.34L235.56,9.49M429.64,94.18L222.4,8.28M18.28,86.98L232.97,8.45" stroke="#ea3a48" stroke-width="0.5" stroke-opacity="0.6" fill="none"/>
<path d="M214.48,196.9L13.4,84.27M214.48,196.9L435.11,91.63M225.34,191.6L23.74,80.42M204.39,191.18L424.92,87.37M236.06,186.39L33.96,76.61M194.45,185.55L414.86,83.18M246.64,181.26L44.08,72.85M184.66,180.01L404.93,79.05M257.08,176.2L54.08,69.15M175.02,174.57L395.13,74.97M267.39,171.22L63.98,65.5M165.52,169.21L385.45,70.95M277.56,166.31L73.76,61.89M156.16,163.93L375.9,66.99M287.6,161.47L83.44,58.33M146.93,158.74L366.47,63.09M297.52,156.71L93.02,54.82M137.84,153.63L357.16,59.24M307.31,152.01L102.49,51.36M128.89,148.6L347.96,55.45M316.98,147.39L111.86,47.94M120.06,143.65L338.88,51.7M326.52,142.83L121.13,44.57M111.35,138.77L329.91,48.01M335.95,138.33L130.3,41.24M102.77,133.97L321.06,44.37M345.26,133.91L139.38,37.96M94.31,129.24L312.31,40.78M354.46,129.54L148.36,34.71M85.97,124.58L303.67,37.24M363.54,125.24L157.25,31.51M77.74,119.99L295.13,33.74M372.51,120.99L166.04,28.35M69.63,115.47L286.7,30.3M381.38,116.81L174.74,25.23M61.63,111.01L278.37,26.89M390.14,112.68L183.36,22.15M53.74,106.63L270.13,23.54M398.79,108.62L191.88,19.11M45.95,102.3L262,20.23M407.34,104.61L200.32,16.11M38.27,98.04L253.96,16.96M415.78,100.65L208.67,13.14M30.69,93.84L246.01,13.73M424.13,96.75L216.94,10.21M23.21,89.7L238.16,10.55M432.38,92.9L225.12,7.32M15.83,85.62L230.4,7.4M435.11,91.63L227.83,6.37M13.4,84.27L227.83,6.37" stroke="#ea3a48" stroke-width="1.0" stroke-opacity="1" fill="none"/>
<path d="M30.82,319.4L214.39,439.84L415.56,329.28L436.84,70.65" stroke="#000" stroke-width="1.2" fill="none"/>
<path d="M214.39,439.84L219.24,443.02M214.39,439.84L209.17,442.71M230.72,430.86L233.64,432.73M199.21,429.88L196.09,431.56M246.72,422.07L251.6,425.12M184.4,420.17L179.21,422.9M262.39,413.45L265.32,415.24M169.94,410.68L166.84,412.28M277.74,405.02L282.63,407.95M155.82,401.41L150.66,404.02M292.77,396.76L295.71,398.47M142.02,392.36L138.94,393.89M307.51,388.66L312.41,391.46M128.54,383.51L123.41,386.01M321.95,380.72L324.89,382.37M115.36,374.87L112.3,376.33M336.11,372.94L341.02,375.63M102.48,366.41L97.38,368.8M350,365.31L352.94,366.89M89.88,358.14L86.83,359.54M363.61,357.82L368.52,360.41M77.55,350.06L72.49,352.34M376.97,350.48L379.91,352M65.49,342.14L62.47,343.48M390.08,343.28L394.98,345.77M53.69,334.4L48.66,336.59M402.93,336.21L405.87,337.68M42.13,326.82L39.13,328.1M415.56,329.28L420.46,331.67M30.82,319.4L25.84,321.5M416.31,320.14L419.26,321.56M417.08,310.8L420.04,312.21M417.8,302.04L420.77,303.44M418.48,293.79L421.46,295.18M419.12,285.99L422.11,287.36M419.73,278.59L422.73,279.95M420.31,271.55L423.32,272.9M420.86,264.84L425.91,267.08M421.39,258.42L424.42,259.75M421.89,252.26L424.93,253.59M422.38,246.36L425.43,247.67M422.85,240.68L425.9,241.98M423.3,235.2L426.36,236.5M423.73,229.92L426.8,231.21M424.15,224.82L427.23,226.1M424.56,219.88L427.64,221.16M424.95,215.1L428.04,216.37M425.33,210.47L430.5,212.56M425.7,205.97L428.81,207.22M426.06,201.6L429.17,202.84M426.41,197.34L429.53,198.58M426.75,193.21L429.88,194.44M427.08,189.18L430.21,190.4M427.41,185.25L430.54,186.46M427.72,181.41L430.86,182.62M428.03,177.67L431.18,178.88M428.33,174.02L431.48,175.21M428.63,170.45L433.89,172.43M428.91,166.95L432.07,168.14M429.19,163.54L432.36,164.71M429.47,160.19L432.64,161.36M429.74,156.91L432.91,158.08M430,153.7L433.18,154.86M430.26,150.55L433.44,151.71M430.52,147.46L433.7,148.61M430.77,144.43L433.96,145.58M431.01,141.46L434.21,142.6M431.25,138.54L436.59,140.43M431.49,135.67L434.69,136.8M431.72,132.85L434.93,133.97M431.95,130.08L435.16,131.2M432.17,127.35L435.39,128.47M432.39,124.67L435.61,125.78M432.61,122.03L435.83,123.14M432.82,119.43L436.05,120.54M433.03,116.88L436.26,117.98M433.24,114.36L436.47,115.45M433.44,111.88L438.85,113.7M433.65,109.44L436.89,110.52M433.84,107.03L437.09,108.11M434.04,104.66L437.29,105.73M434.23,102.32L437.48,103.39M434.42,100.01L437.67,101.08M434.61,97.73L437.86,98.79M434.79,95.49L438.05,96.54M434.98,93.27L438.24,94.32M435.16,91.08L438.42,92.13M435.33,88.92L440.79,90.67M435.51,86.79L438.78,87.83M435.68,84.68L438.96,85.72M435.85,82.6L439.13,83.64M436.02,80.55L439.3,81.58M436.19,78.52L439.47,79.54M436.36,76.51L439.64,77.53M436.52,74.53L439.81,75.55M436.68,72.57L439.97,73.58" stroke="#000" stroke-width="1" fill="none"/>
<text transform="matrix(0.752 0.495 -0.757 0.429 234.3 454.8)" font-size="16" font-family="Liberation Sans, Arial, sans-serif" font-weight="bold" font-style="normal" text-anchor="middle" y="5.728">130</text>
<text transform="matrix(0.755 0.474 -0.757 0.429 266.4 436.7)" font-size="16" font-family="Liberation Sans, Arial, sans-serif" font-weight="bold" font-style="normal" text-anchor="middle" y="5.728">131</text>
<text transform="matrix(0.756 0.453 -0.757 0.429 297.8 418.5)" font-size="16" font-family="Liberation Sans, Arial, sans-serif" font-weight="bold" font-style="normal" text-anchor="middle" y="5.728">132</text>
<text transform="matrix(0.757 0.434 -0.757 0.429 328.3 400.7)" font-size="16" font-family="Liberation Sans, Arial, sans-serif" font-weight="bold" font-style="normal" text-anchor="middle" y="5.728">133</text>
<text transform="matrix(0.758 0.417 -0.757 0.429 357.3 385.4)" font-size="16" font-family="Liberation Sans, Arial, sans-serif" font-weight="bold" font-style="normal" text-anchor="middle" y="5.728">134</text>
<text transform="matrix(0.757 0.4 -0.757 0.428 384.4 368.8)" font-size="16" font-family="Liberation Sans, Arial, sans-serif" font-weight="bold" font-style="normal" text-anchor="middle" y="5.728">135</text>
<text transform="matrix(0.756 0.384 -0.757 0.429 412.2 353.3)" font-size="16" font-family="Liberation Sans, Arial, sans-serif" font-weight="bold" font-style="normal" text-anchor="middle" y="5.728">136</text>
<text transform="matrix(0.755 0.369 -0.757 0.429 437.7 338.9)" font-size="16" font-family="Liberation Sans, Arial, sans-serif" font-weight="bold" font-style="normal" text-anchor="middle" y="5.728">137</text>
<text transform="matrix(0.902 -0.382 0.514 0.347 15.5 328.6)" font-size="16" font-family="Liberation Sans, Arial, sans-serif" font-weight="bold" font-style="normal" text-anchor="middle" y="5.728">54</text>
<text transform="matrix(0.908 -0.398 0.536 0.361 39 343.1)" font-size="16" font-family="Liberation Sans, Arial, sans-serif" font-weight="bold" font-style="normal" text-anchor="middle" y="5.728">53</text>
<text transform="matrix(0.916 -0.416 0.561 0.378 63.5 359.9)" font-size="16" font-family="Liberation Sans, Arial, sans-serif" font-weight="bold" font-style="normal" text-anchor="middle" y="5.728">52</text>
<text transform="matrix(0.923 -0.434 0.585 0.394 86.8 375.9)" font-size="16" font-family="Liberation Sans, Arial, sans-serif" font-weight="bold" font-style="normal" text-anchor="middle" y="5.728">51</text>
<text transform="matrix(0.928 -0.452 0.612 0.412 113.4 392.6)" font-size="16" font-family="Liberation Sans, Arial, sans-serif" font-weight="bold" font-style="normal" text-anchor="middle" y="5.728">50</text>
<text transform="matrix(0.936 -0.475 0.643 0.433 141.3 412)" font-size="16" font-family="Liberation Sans, Arial, sans-serif" font-weight="bold" font-style="normal" text-anchor="middle" y="5.728">49</text>
<text transform="matrix(0.942 -0.498 0.674 0.454 168.7 431.6)" font-size="16" font-family="Liberation Sans, Arial, sans-serif" font-weight="bold" font-style="normal" text-anchor="middle" y="5.728">48</text>
<text transform="matrix(0.948 -0.522 0.707 0.476 197.7 451.4)" font-size="16" font-family="Liberation Sans, Arial, sans-serif" font-weight="bold" font-style="normal" text-anchor="middle" y="5.728">47</text>
<text transform="matrix(0.885 0.285 -0.088 0.976 457 97.5)" font-size="16" font-family="Liberation Sans, Arial, sans-serif" font-weight="bold" font-style="normal" text-anchor="middle" y="5.728">140</text>
<text transform="matrix(0.878 0.296 -0.087 0.96 456.1 120.5)" font-size="16" font-family="Liberation Sans, Arial, sans-serif" font-weight="bold" font-style="normal" text-anchor="middle" y="5.728">120</text>
<text transform="matrix(0.868 0.309 -0.086 0.941 454.1 147.5)" font-size="16" font-family="Liberation Sans, Arial, sans-serif" font-weight="bold" font-style="normal" text-anchor="middle" y="5.728">100</text>
<text transform="matrix(0.851 0.322 -0.082 0.916 447 178.4)" font-size="16" font-family="Liberation Sans, Arial, sans-serif" font-weight="bold" font-style="normal" text-anchor="middle" y="5.728">80</text>
<text transform="matrix(0.836 0.339 -0.079 0.888 443.2 218.6)" font-size="16" font-family="Liberation Sans, Arial, sans-serif" font-weight="bold" font-style="normal" text-anchor="middle" y="5.728">60</text>
<text transform="matrix(0.816 0.362 -0.076 0.851 438.6 272.8)" font-size="16" font-family="Liberation Sans, Arial, sans-serif" font-weight="bold" font-style="normal" text-anchor="middle" y="5.728">40</text>
<text transform="matrix(0.811 0.564 -0.706 0.34 83.321 398.101)" font-size="16" font-family="Liberation Sans, Arial, sans-serif" font-weight="bold" font-style="normal" text-anchor="middle" y="5.728">Surface energy (dyne)</text>
<text transform="matrix(0.866 -0.564 0.804 0.405 363.782 409.202)" font-size="16" font-family="Liberation Sans, Arial, sans-serif" font-weight="bold" font-style="normal" text-anchor="middle" y="5.728">Contact angle (degree)</text>
<text transform="matrix(0.105 -0.995 0.995 0.105 471.7 223.2)" font-size="18.6" font-family="Liberation Sans, Arial, sans-serif" font-weight="bold" font-style="italic" text-anchor="middle" y="6.659">Diameter (nm)</text>
<circle cx="479.7" cy="23.5" r="4" fill="#e8413f"/>
<text x="491.8" y="29.1" font-size="18.9" font-family="Liberation Sans, Arial, sans-serif" font-weight="bold">10bar</text>
<circle cx="479.7" cy="47.55" r="4" fill="#1f6fe0"/>
<text x="491.8" y="53.15" font-size="18.9" font-family="Liberation Sans, Arial, sans-serif" font-weight="bold">20bar</text>
<circle cx="479.7" cy="71.6" r="4" fill="#3aab6c"/>
<text x="491.8" y="77.2" font-size="18.9" font-family="Liberation Sans, Arial, sans-serif" font-weight="bold">30bar</text>
<circle cx="479.7" cy="95.65" r="4" fill="#b07ee6"/>
<text x="491.8" y="101.25" font-size="18.9" font-family="Liberation Sans, Arial, sans-serif" font-weight="bold">40bar</text>
<circle cx="479.7" cy="119.7" r="4" fill="#d19c12"/>
<text x="491.8" y="125.3" font-size="18.9" font-family="Liberation Sans, Arial, sans-serif" font-weight="bold">50bar</text></svg></body></html>
